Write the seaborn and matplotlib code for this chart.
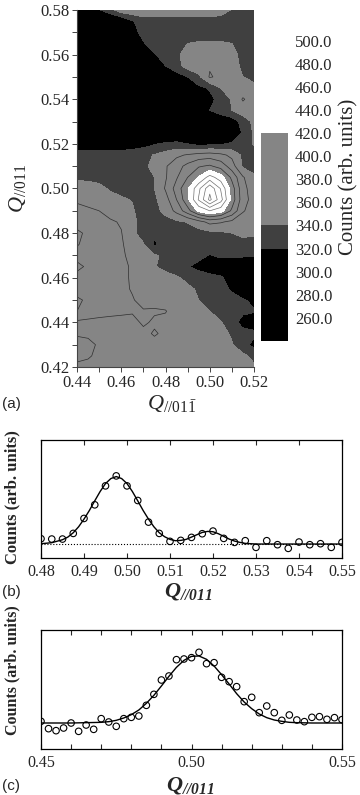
import matplotlib
matplotlib.use("Agg")
import matplotlib.pyplot as plt
import numpy as np
import seaborn as sns
from matplotlib.ticker import MultipleLocator, FormatStrFormatter, NullFormatter

# ---------------- data ----------------
map_qx = [0.440, 0.445, 0.450, 0.455, 0.460, 0.465, 0.470, 0.475, 0.480,
          0.485, 0.490, 0.495, 0.500, 0.505, 0.510, 0.515, 0.520]
map_qy = [0.580, 0.575, 0.570, 0.565, 0.560, 0.555, 0.550, 0.545, 0.540,
          0.535, 0.530, 0.525, 0.520, 0.515, 0.510, 0.505, 0.500, 0.495,
          0.490, 0.485, 0.480, 0.475, 0.470, 0.465, 0.460, 0.455, 0.450,
          0.445, 0.440, 0.435, 0.430, 0.425, 0.420]
map_counts = [
    [290, 295, 318, 332, 352, 355, 355, 355, 355, 355, 355, 355, 355, 350, 338, 330, 330],
    [290, 290, 290, 295, 300, 318, 330, 330, 330, 330, 330, 330, 330, 330, 330, 330, 330],
    [285, 285, 285, 290, 295, 310, 328, 330, 330, 330, 330, 330, 330, 330, 330, 330, 330],
    [285, 285, 285, 285, 290, 300, 318, 330, 330, 332, 340, 342, 342, 342, 340, 335, 332],
    [285, 285, 285, 285, 290, 295, 305, 318, 330, 335, 350, 355, 355, 352, 345, 335, 330],
    [285, 285, 285, 285, 285, 290, 295, 305, 320, 333, 348, 355, 358, 355, 348, 336, 330],
    [285, 285, 285, 285, 285, 288, 290, 295, 302, 310, 320, 335, 362, 355, 350, 340, 335],
    [285, 285, 285, 285, 285, 285, 288, 290, 295, 300, 308, 315, 322, 340, 350, 348, 345],
    [285, 285, 285, 285, 285, 285, 285, 288, 290, 295, 300, 308, 315, 326, 342, 362, 350],
    [285, 285, 285, 285, 285, 285, 285, 288, 290, 292, 298, 305, 320, 330, 340, 350, 348],
    [285, 285, 285, 285, 285, 285, 285, 288, 290, 292, 295, 298, 300, 303, 308, 328, 345],
    [285, 285, 285, 285, 285, 285, 285, 288, 290, 292, 295, 298, 300, 302, 306, 322, 343],
    [305, 305, 305, 305, 305, 308, 312, 318, 324, 326, 320, 312, 315, 318, 322, 332, 341],
    [330, 330, 330, 330, 330, 332, 335, 341, 348, 356, 362, 368, 370, 365, 355, 336, 332],
    [330, 330, 330, 330, 330, 332, 336, 345, 358, 372, 386, 398, 403, 392, 370, 336, 330],
    [337, 336, 335, 333, 332, 332, 334, 340, 358, 378, 400, 422, 448, 430, 395, 362, 345],
    [348, 347, 344, 338, 333, 332, 333, 340, 362, 388, 418, 455, 495, 458, 410, 366, 350],
    [358, 356, 354, 346, 343, 339, 333, 336, 352, 380, 415, 462, 505, 468, 412, 368, 352],
    [364, 362, 360, 352, 347, 342, 332, 333, 346, 366, 392, 425, 440, 428, 396, 362, 350],
    [370, 368, 366, 363, 358, 344, 334, 330, 332, 336, 341, 352, 366, 362, 355, 348, 345],
    [385, 375, 370, 366, 361, 343, 334, 325, 328, 330, 330, 332, 334, 336, 340, 344, 342],
    [382, 372, 369, 366, 362, 352, 341, 316, 330, 330, 330, 330, 330, 330, 332, 334, 334],
    [372, 370, 368, 366, 363, 355, 347, 342, 337, 332, 330, 328, 318, 326, 326, 324, 322],
    [386, 376, 370, 367, 364, 358, 350, 341, 335, 330, 322, 312, 302, 298, 296, 295, 295],
    [372, 370, 368, 366, 362, 359, 354, 350, 346, 342, 336, 333, 330, 324, 305, 295, 295],
    [370, 370, 368, 366, 363, 359, 355, 352, 350, 347, 343, 338, 333, 330, 316, 302, 298],
    [384, 376, 370, 367, 364, 361, 356, 354, 352, 350, 347, 340, 334, 332, 330, 322, 315],
    [380, 372, 368, 366, 364, 362, 361, 362, 361, 351, 349, 345, 340, 334, 330, 325, 322],
    [356, 355, 354, 353, 353, 354, 363, 357, 355, 354, 352, 349, 346, 341, 330, 310, 305],
    [358, 357, 355, 354, 353, 353, 355, 362, 356, 354, 353, 351, 348, 345, 338, 330, 326],
    [366, 364, 358, 355, 354, 353, 353, 354, 354, 353, 352, 351, 350, 347, 341, 330, 312],
    [365, 362, 356, 354, 354, 353, 353, 353, 353, 353, 352, 351, 350, 348, 346, 343, 336],
    [356, 355, 354, 354, 354, 353, 353, 353, 353, 353, 352, 351, 350, 348, 347, 345, 342],
]
fill_levels = [200, 320, 340, 420, 600]
fill_colors = ["#000000", "#404040", "#858585", "#ffffff"]
line_levels_gray = [360, 380, 400]
line_levels_white = [440, 460, 480, 500]

cbar_bottoms = [240, 320, 340]
cbar_tops = [320, 340, 420]
cbar_colors = ["#000000", "#404040", "#858585"]
cbar_ticks = [260, 280, 300, 320, 340, 360, 380, 400, 420, 440, 460, 480, 500]

b_q = [0.4800, 0.4825, 0.4850, 0.4875, 0.4900, 0.4925, 0.4950, 0.4975, 0.5000,
       0.5025, 0.5050, 0.5075, 0.5100, 0.5125, 0.5150, 0.5175, 0.5200, 0.5225,
       0.5250, 0.5275, 0.5300, 0.5325, 0.5350, 0.5375, 0.5400, 0.5425, 0.5450,
       0.5475, 0.5500]
b_counts = [58, 57, 57, 74, 119, 160, 217, 247, 217, 173, 108, 74, 50, 53, 62,
            73, 81, 59, 47, 52, 32, 52, 40, 29, 48, 40, 43, 32, 47]
b_fit_q = [0.480, 0.4825, 0.485, 0.48625, 0.4875, 0.48875, 0.490, 0.49125, 0.4925,
           0.49375, 0.495, 0.49625, 0.4975, 0.49875, 0.500, 0.50125, 0.5025, 0.50375,
           0.505, 0.50625, 0.5075, 0.50875, 0.510, 0.51125, 0.5125, 0.51375, 0.515,
           0.51625, 0.5175, 0.51875, 0.520, 0.52125, 0.5225, 0.52375, 0.525, 0.52625,
           0.5275, 0.530, 0.535, 0.540, 0.545, 0.550]
b_fit = [43, 46, 55, 63, 76, 94, 117, 143, 172, 200, 224, 239, 245, 239, 224, 200,
         172, 143, 117, 94, 76, 64, 56, 52, 53, 56, 63, 70, 77, 80, 79, 73, 65, 57,
         51, 47, 44, 42, 42, 42, 42, 42]
b_base_q = [0.48, 0.55]
b_base = [42, 42]

c_q = [0.4500, 0.4525, 0.4550, 0.4575, 0.4600, 0.4625, 0.4650, 0.4675, 0.4700,
       0.4725, 0.4750, 0.4775, 0.4800, 0.4825, 0.4850, 0.4875, 0.4900, 0.4925,
       0.4950, 0.4975, 0.5000, 0.5025, 0.5050, 0.5075, 0.5100, 0.5125, 0.5150,
       0.5175, 0.5200, 0.5225, 0.5250, 0.5275, 0.5300, 0.5325, 0.5350, 0.5375,
       0.5400, 0.5425, 0.5450, 0.5475, 0.5500]
c_counts = [83, 61, 55, 63, 78, 53, 72, 59, 91, 81, 68, 91, 95, 99, 131, 164, 207,
            219, 268, 270, 274, 290, 256, 259, 215, 202, 187, 142, 155, 109, 129,
            109, 86, 102, 87, 82, 95, 97, 89, 94, 88]
c_fit_q = [0.450, 0.455, 0.460, 0.465, 0.470, 0.4725, 0.475, 0.4775, 0.480, 0.4825,
           0.485, 0.4875, 0.490, 0.4925, 0.495, 0.4975, 0.500, 0.5025, 0.505, 0.5075,
           0.510, 0.5125, 0.515, 0.5175, 0.520, 0.5225, 0.525, 0.5275, 0.530, 0.5325,
           0.535, 0.540, 0.545, 0.550]
c_fit = [78, 78, 78, 79, 80, 82, 86, 93, 103, 117, 137, 161, 189, 218, 245, 266,
         278, 279, 269, 249, 223, 195, 166, 141, 121, 105, 94, 87, 83, 80, 79, 78,
         78, 78]

# ---------------- style ----------------
sns.set_style("ticks")
plt.rcParams["font.family"] = ["Liberation Serif", "DejaVu Serif"]
plt.rcParams["mathtext.fontset"] = "custom"
plt.rcParams["mathtext.rm"] = "Liberation Serif"
plt.rcParams["mathtext.it"] = "Liberation Serif:italic"
plt.rcParams["mathtext.bf"] = "Liberation Serif:bold:italic"

W, H = 360, 795
fig = plt.figure(figsize=(3.6, 7.95), dpi=100)


def box(l, t, r, b):
    return [l / W, 1 - b / H, (r - l) / W, (b - t) / H]


# ---------------- panel (a) contour map ----------------
ax_a = fig.add_axes(box(77, 10, 254, 367))
Z = np.array(map_counts, dtype=float)
ax_a.contourf(map_qx, map_qy, Z, levels=fill_levels, colors=fill_colors)
ax_a.contour(map_qx, map_qy, Z, levels=line_levels_gray, colors="#2e2e2e", linewidths=0.5)
ax_a.contour(map_qx, map_qy, Z, levels=line_levels_white, colors="#707070", linewidths=0.5)
ax_a.set_xlim(0.44, 0.52)
ax_a.set_ylim(0.42, 0.58)
ax_a.xaxis.set_major_locator(MultipleLocator(0.02))
ax_a.xaxis.set_minor_locator(MultipleLocator(0.01))
ax_a.yaxis.set_major_locator(MultipleLocator(0.02))
ax_a.yaxis.set_minor_locator(MultipleLocator(0.01))
ax_a.xaxis.set_major_formatter(FormatStrFormatter("%.2f"))
ax_a.yaxis.set_major_formatter(FormatStrFormatter("%.2f"))
ax_a.tick_params(which="both", direction="out", length=3.5, width=0.7,
                 color="#444444", labelsize=12, pad=2)
for s in ["top", "right"]:
    ax_a.spines[s].set_visible(False)
for s in ["left", "bottom"]:
    ax_a.spines[s].set_color("#444444")
    ax_a.spines[s].set_linewidth(0.8)

# colour bar
ax_cb = fig.add_axes(box(261, 29, 288, 341))
heights = [t - b for t, b in zip(cbar_tops, cbar_bottoms)]
ax_cb.bar([0, 0, 0], heights, bottom=cbar_bottoms, width=1.0,
          color=cbar_colors, edgecolor="none")
ax_cb.set_xlim(-0.5, 0.5)
ax_cb.set_ylim(240, 510)
ax_cb.set_xticks([])
ax_cb.yaxis.tick_right()
ax_cb.set_yticks(cbar_ticks)
ax_cb.set_yticklabels([f"{v:.1f}" for v in cbar_ticks])
ax_cb.tick_params(axis="y", length=0, pad=5, labelsize=12)
for s in ax_cb.spines.values():
    s.set_visible(False)
ax_cb.patch.set_alpha(0)

fig.text(349 / W, 1 - 177 / H, "Counts (arb. units)", rotation=90,
         ha="center", va="center", fontsize=15)
fig.text(17 / W, 1 - 188 / H, r"$Q_{//011}$", rotation=90,
         ha="center", va="center", fontsize=16)
fig.text(172 / W, 1 - 404 / H, r"$Q_{//01\bar{1}}$",
         ha="center", va="center", fontsize=16)

# ---------------- panel (b) ----------------
ax_b = fig.add_axes(box(41, 440, 342, 558))
sns.lineplot(x=b_base_q, y=b_base, ax=ax_b, color="black", linewidth=0.8,
             linestyle=":")
sns.lineplot(x=b_fit_q, y=b_fit, ax=ax_b, color="black", linewidth=1.0)
sns.scatterplot(x=b_q, y=b_counts, ax=ax_b, marker="o", s=22,
                facecolors="none", edgecolors="black", linewidth=0.8, zorder=3)
ax_b.set_xlim(0.48, 0.55)
ax_b.set_ylim(0, 355)
ax_b.set_yticks([])
ax_b.xaxis.set_major_locator(MultipleLocator(0.01))
ax_b.xaxis.set_major_formatter(FormatStrFormatter("%.2f"))
ax_b.tick_params(axis="x", direction="in", top=True, bottom=True, length=3.5,
                 width=0.8, labelsize=11.5, pad=4)
ax_b.set_xlabel("")
ax_b.set_ylabel("")
for s in ax_b.spines.values():
    s.set_linewidth(0.9)
    s.set_color("black")

# ---------------- panel (c) ----------------
ax_c = fig.add_axes(box(41, 630, 342, 749))
sns.lineplot(x=c_fit_q, y=c_fit, ax=ax_c, color="black", linewidth=1.0)
sns.scatterplot(x=c_q, y=c_counts, ax=ax_c, marker="o", s=22,
                facecolors="none", edgecolors="black", linewidth=0.8, zorder=3)
ax_c.set_xlim(0.45, 0.55)
ax_c.set_ylim(0, 357)
ax_c.set_yticks([])
ax_c.xaxis.set_major_locator(MultipleLocator(0.05))
ax_c.xaxis.set_minor_locator(MultipleLocator(0.01))
ax_c.xaxis.set_major_formatter(FormatStrFormatter("%.2f"))
ax_c.xaxis.set_minor_formatter(NullFormatter())
ax_c.tick_params(axis="x", which="both", direction="in", top=True, bottom=True,
                 length=3.5, width=0.8, labelsize=11.5, pad=4)
ax_c.set_xlabel("")
ax_c.set_ylabel("")
for s in ax_c.spines.values():
    s.set_linewidth(0.9)
    s.set_color("black")

# labels for b and c
fig.text(12 / W, 1 - 497 / H, "Counts (arb. units)", rotation=90,
         ha="center", va="center", fontsize=12, fontweight="bold")
fig.text(12 / W, 1 - 670 / H, "Counts (arb. units)", rotation=90,
         ha="center", va="center", fontsize=11.5, fontweight="bold")
fig.text(188 / W, 1 - 591 / H, r"$\mathbf{Q}_{\mathbf{//011}}$",
         ha="center", va="center", fontsize=16)
fig.text(190 / W, 1 - 786 / H, r"$\mathbf{Q}_{\mathbf{//011}}$",
         ha="center", va="center", fontsize=16)

for lab, y in [("(a)", 404), ("(b)", 592), ("(c)", 786)]:
    fig.text(2 / W, 1 - y / H, lab, ha="left", va="center", fontsize=11,
             family=["Liberation Sans", "DejaVu Sans"])

fig.savefig("out.png", dpi=100)
